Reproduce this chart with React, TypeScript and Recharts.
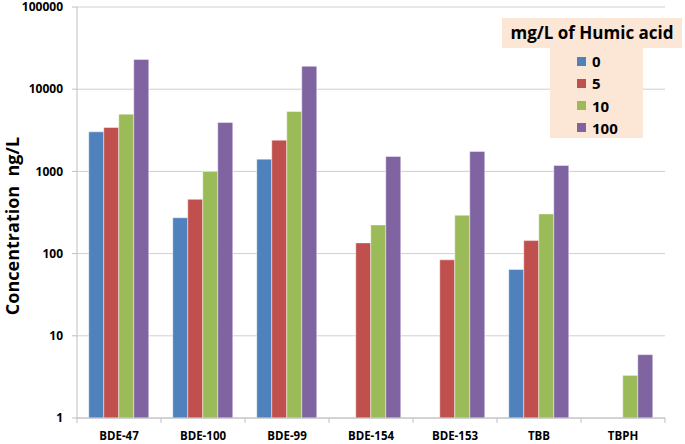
import React from "react";
import { BarChart, Bar, XAxis, YAxis, CartesianGrid } from "recharts";

const categories = ["BDE-47", "BDE-100", "BDE-99", "BDE-154", "BDE-153", "TBB", "TBPH"];
const ha0 = [3030, 273, 1410, null, null, 64, null];
const ha5 = [3420, 457, 2400, 135, 84, 144, null];
const ha10 = [4970, 1000, 5360, 223, 293, 304, 3.3];
const ha100 = [23000, 3940, 19000, 1520, 1750, 1180, 5.9];
const yTicks = [1, 10, 100, 1000, 10000, 100000];

const series = [
  { key: "ha0", name: "0", color: "#4F81BD", values: ha0 },
  { key: "ha5", name: "5", color: "#C0504D", values: ha5 },
  { key: "ha10", name: "10", color: "#9BBB59", values: ha10 },
  { key: "ha100", name: "100", color: "#8064A2", values: ha100 },
];

const data = categories.map((name, i) => {
  const row: Record<string, any> = { name };
  series.forEach((s) => (row[s.key] = s.values[i]));
  return row;
});

const W = 685;
const H = 444;
const Y_AXIS_W = 77;
const X_AXIS_H = 26;
const RIGHT = 20;
const PLOT_BOTTOM = H - X_AXIS_H;
const HALF_BAND = (W - Y_AXIS_W - RIGHT) / categories.length / 2;
const FONT = "'Open Sans', 'Liberation Sans', Arial, sans-serif";
const AXIS_COLOR = "#BFBFBF";
const PEACH = "#FCE6D6";

function XTick({ x, payload, index }: any) {
  return (
    <g>
      <line x1={x - HALF_BAND} x2={x - HALF_BAND} y1={PLOT_BOTTOM} y2={PLOT_BOTTOM + 5} stroke={AXIS_COLOR} />
      {index === categories.length - 1 && (
        <line x1={x + HALF_BAND} x2={x + HALF_BAND} y1={PLOT_BOTTOM} y2={PLOT_BOTTOM + 5} stroke={AXIS_COLOR} />
      )}
      <text x={x} y={PLOT_BOTTOM + 22} textAnchor="middle" fontFamily={FONT} fontWeight={700} fontSize={11.5} fill="#000">
        {payload.value}
      </text>
    </g>
  );
}

function YTitle() {
  return (
    <text
      x={19}
      y={226}
      transform="rotate(-90 19 226)"
      textAnchor="middle"
      fontFamily={FONT}
      fontWeight={700}
      fontSize={18}
      fill="#000"
      style={{ whiteSpace: "pre" }}
    >
      {"Concentration  ng/L"}
    </text>
  );
}

export default function App() {
  return (
    <div style={{ position: "absolute", left: 0, top: 0, width: W, height: H, background: "#fff" }}>
      <BarChart
        width={W}
        height={H}
        data={data}
        margin={{ top: 7, right: RIGHT, bottom: 0, left: 0 }}
        barCategoryGap="14%"
        barGap={0}
      >
        <CartesianGrid vertical={false} stroke="#D0D0D0" />
        <XAxis
          dataKey="name"
          height={X_AXIS_H}
          axisLine={{ stroke: AXIS_COLOR }}
          tickLine={false}
          interval={0}
          tick={<XTick />}
        />
        <YAxis
          type="number"
          scale="log"
          domain={[1, 100000]}
          ticks={yTicks}
          allowDataOverflow
          interval={0}
          width={Y_AXIS_W}
          axisLine={{ stroke: AXIS_COLOR }}
          tickLine={{ stroke: AXIS_COLOR }}
          tickSize={5}
          tickMargin={9}
          tick={{ fontFamily: FONT, fontWeight: 700, fontSize: 12, fill: "#000" }}
          label={<YTitle />}
        />
        {series.map((s) => (
          <Bar
            key={s.key}
            dataKey={s.key}
            name={s.name}
            fill={s.color}
            stroke="rgba(255,255,255,0.55)"
            strokeWidth={0.8}
            isAnimationActive={false}
          />
        ))}
      </BarChart>
      <div
        style={{
          position: "absolute",
          left: 502,
          top: 18,
          width: 180,
          height: 30,
          background: PEACH,
          fontFamily: FONT,
          fontWeight: 700,
          fontSize: 17,
          lineHeight: "30px",
          textAlign: "center",
          color: "#000",
          whiteSpace: "nowrap",
        }}
      >
        mg/L of Humic acid
      </div>
      <div
        style={{
          position: "absolute",
          left: 550,
          top: 48,
          width: 93,
          height: 90,
          background: PEACH,
          fontFamily: FONT,
          fontWeight: 700,
          fontSize: 15,
          color: "#000",
        }}
      >
        {series.map((s, i) => (
          <div
            key={s.key}
            style={{ position: "absolute", left: 27, top: 2 + i * 22.3, height: 22, display: "flex", alignItems: "center" }}
          >
            <span style={{ display: "inline-block", width: 9, height: 9, background: s.color, marginRight: 6 }} />
            <span style={{ lineHeight: "22px" }}>{s.name}</span>
          </div>
        ))}
      </div>
    </div>
  );
}
